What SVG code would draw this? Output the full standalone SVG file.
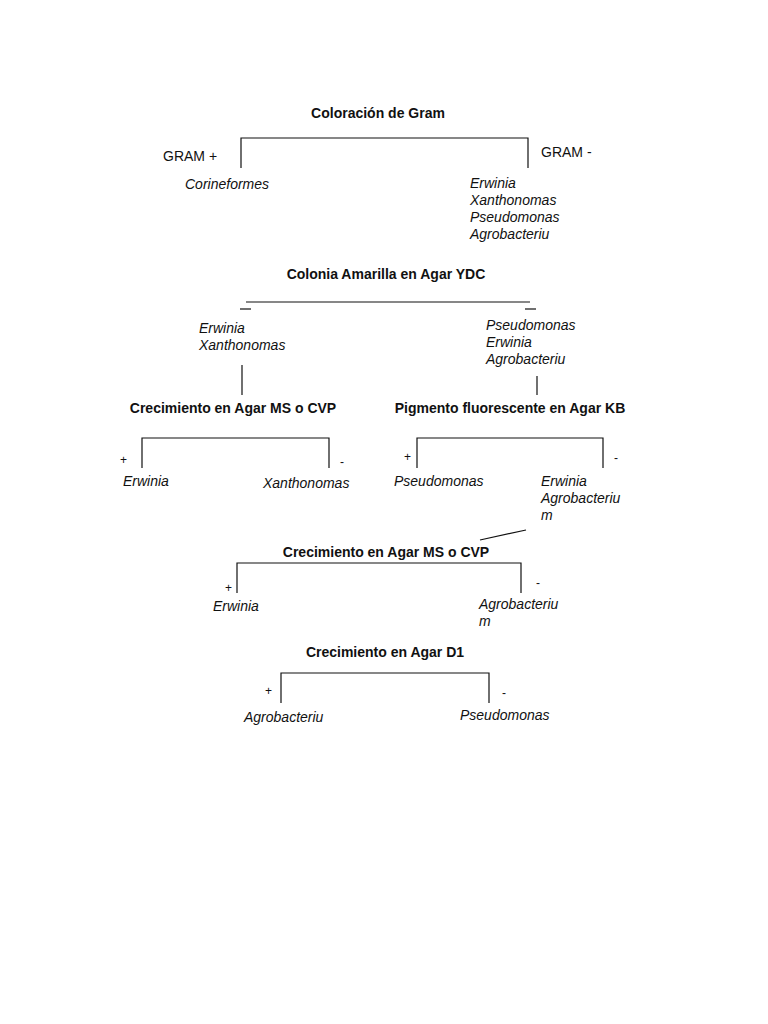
<svg xmlns="http://www.w3.org/2000/svg" width="768" height="1024" viewBox="0 0 768 1024">
<style>
text{font-family:"Liberation Sans",Arial,sans-serif;font-size:14px;fill:#111}
.b{font-weight:bold}
.i{font-style:italic}
.s{font-size:12px}
line,polyline{stroke:#111;stroke-width:1.2;fill:none}
</style>
<rect width="768" height="1024" fill="#fff"/>
<g id="connectors">
<polyline points="241,168 241,138 528,138 528,168"/>
<line x1="246" y1="302" x2="530" y2="302"/>
<line x1="240" y1="309" x2="251" y2="309"/>
<line x1="525" y1="309" x2="536" y2="309"/>
<line x1="242" y1="365" x2="242" y2="395"/>
<line x1="537" y1="376" x2="537" y2="395"/>
<polyline points="142,468 142,438 329,438 329,468"/>
<polyline points="417,468 417,438 603,438 603,468"/>
<line x1="480" y1="540" x2="526" y2="530"/>
<polyline points="237,593 237,563 521,563 521,593"/>
<polyline points="281,703 281,673 489,673 489,703"/>
</g>
<g id="gram"><text class="b" x="378" y="118" text-anchor="middle">Coloración de Gram</text></g>
<g id="gram-pos"><text x="163" y="161">GRAM +</text><text class="i" x="185" y="189">Corineformes</text></g>
<g id="gram-neg"><text x="541" y="157">GRAM -</text>
<text class="i" x="470" y="188">Erwinia</text><text class="i" x="470" y="205">Xanthonomas</text><text class="i" x="470" y="222">Pseudomonas</text><text class="i" x="470" y="239">Agrobacteriu</text></g>
<g id="ydc"><text class="b" x="386" y="279" text-anchor="middle">Colonia Amarilla en Agar YDC</text></g>
<g id="ydc-pos"><text class="i" x="199" y="333">Erwinia</text><text class="i" x="199" y="350">Xanthonomas</text></g>
<g id="ydc-neg"><text class="i" x="486" y="330">Pseudomonas</text><text class="i" x="486" y="347">Erwinia</text><text class="i" x="486" y="364">Agrobacteriu</text></g>
<g id="ms1"><text class="b" x="233" y="413" text-anchor="middle">Crecimiento en Agar MS o CVP</text>
<text class="s" x="120" y="464">+</text><text class="i" x="123" y="486">Erwinia</text>
<text class="s" x="340" y="466">-</text><text class="i" x="263" y="488">Xanthonomas</text></g>
<g id="kb"><text class="b" x="510" y="413" text-anchor="middle">Pigmento fluorescente en Agar KB</text>
<text class="s" x="404" y="461">+</text><text class="i" x="394" y="486">Pseudomonas</text>
<text class="s" x="614" y="462">-</text><text class="i" x="541" y="486">Erwinia</text><text class="i" x="541" y="503">Agrobacteriu</text><text class="i" x="541" y="520">m</text></g>
<g id="ms2"><text class="b" x="386" y="557" text-anchor="middle">Crecimiento en Agar MS o CVP</text>
<text class="s" x="225" y="592">+</text><text class="i" x="213" y="611">Erwinia</text>
<text class="s" x="536" y="587">-</text><text class="i" x="479" y="609">Agrobacteriu</text><text class="i" x="479" y="626">m</text></g>
<g id="d1"><text class="b" x="385" y="657" text-anchor="middle">Crecimiento en Agar D1</text>
<text class="s" x="265" y="695">+</text><text class="i" x="244" y="722">Agrobacteriu</text>
<text class="s" x="502" y="697">-</text><text class="i" x="460" y="720">Pseudomonas</text></g>
</svg>
